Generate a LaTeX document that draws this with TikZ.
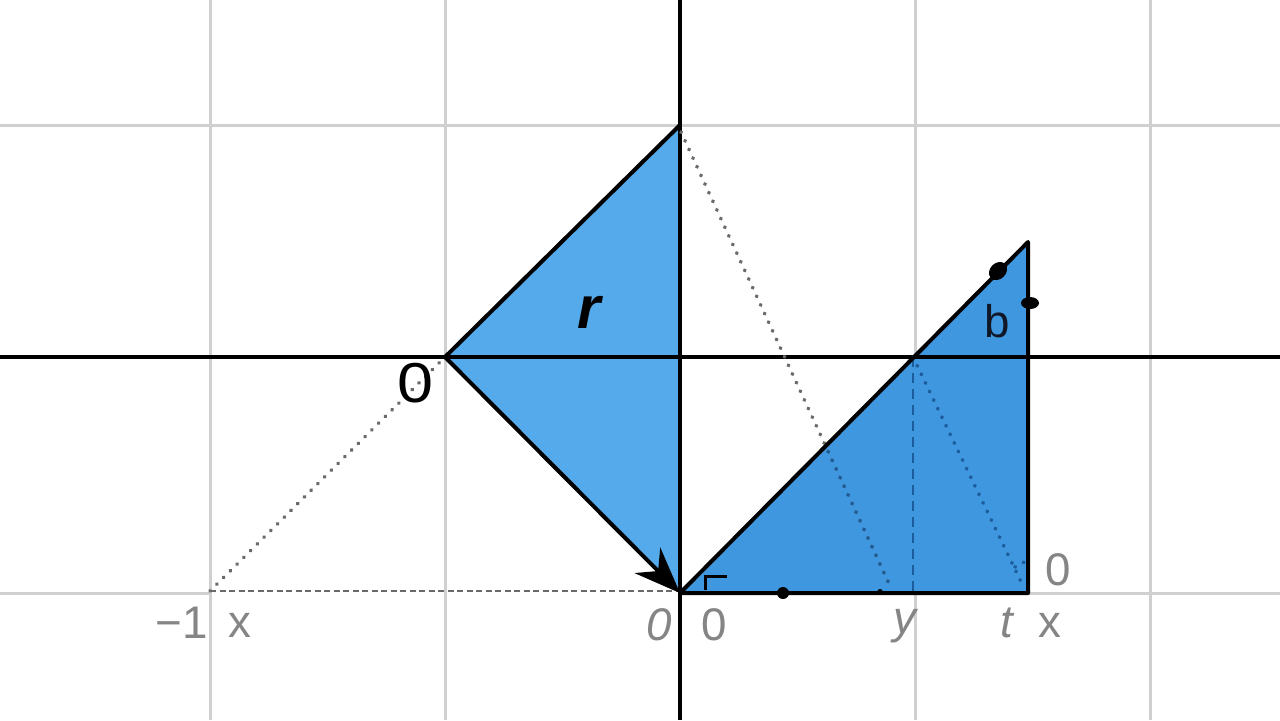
\documentclass[tikz,border=0pt]{standalone}
\usepackage{fontspec}
\setmainfont{Liberation Sans}
\usetikzlibrary{arrows.meta}
\definecolor{gridgray}{HTML}{D0D0D0}
\definecolor{lblue}{HTML}{55AAEC}
\definecolor{dblue}{HTML}{3E97DF}
\definecolor{dotblue}{HTML}{1C5C9A}
\definecolor{labgray}{HTML}{858585}
\definecolor{dotgray}{HTML}{6A6A6A}
\definecolor{navy}{HTML}{101828}
\begin{document}
\begin{tikzpicture}[x=0.01cm,y=-0.01cm,
 gridline/.style={gridgray,line width=0.3mm},
 axisline/.style={black,line width=0.4mm},
 edge/.style={black,line width=0.4mm,line join=round},
 dotline/.style={line width=0.38mm,dash pattern=on 0.05mm off 0.9mm,line cap=round},
 graylab/.style={labgray,font=\fontsize{13pt}{15pt}\selectfont,anchor=base,inner sep=0pt},
 blob/.style={fill=black,draw=none},
]
\useasboundingbox (0,0) rectangle (1280,720);
\fill[white] (0,0) rectangle (1280,720);

% grid
\foreach \x in {210,445,915,1150} \draw[gridline] (\x,0) -- (\x,720);
\draw[gridline] (0,125) -- (1280,125);
\draw[gridline] (0,593) -- (210,593);
\draw[gridline] (680,593) -- (1280,593);

% key points
\coordinate (L) at (445,357);
\coordinate (T) at (680,125);
\coordinate (O) at (680,593);
\coordinate (B) at (1028,242);
\coordinate (C) at (1028,593);
\coordinate (I) at (913,357);
\coordinate (M) at (210,591);
\coordinate (Mr) at (676,591);
\coordinate (Ls) at (440,362);
\coordinate (Ts) at (681,132);
\coordinate (S) at (891,588);
\coordinate (F) at (1024,588);
\coordinate (Iv) at (913,593);

% fills
\fill[lblue] (L) -- (T) -- (O) -- cycle;
\fill[dblue] (O) -- (B) -- (C) -- cycle;

% axes
\draw[axisline] (0,357) -- (1280,357);
\draw[axisline] (680,0) -- (680,720);

% dotted construction lines
\draw[dotline,dotgray] (Ts) -- (S);
\draw[dotline,dotgray] (M) -- (Ls);
\draw[dotgray,line width=0.28mm,dash pattern=on 0.6mm off 0.35mm] (M) -- (Mr);
\begin{scope}
  \clip (O) -- (B) -- (C) -- cycle;
  \draw[dotline,dotblue] (Ts) -- (S);
\end{scope}
\draw[dotline,dotblue] (I) -- (F);
\draw[dotline,dotblue] (1015,567) -- (1026,561);
\draw[dotblue,line width=0.28mm,dash pattern=on 1mm off 0.6mm] (I) -- (Iv);

% black edges
\draw[edge] (T) -- (L);
\draw[edge,-{Stealth[length=4.6mm,width=3.6mm]}] (L) -- (O);
\draw[edge] (O) -- (B) -- (C) -- cycle;

% right-angle mark at origin
\draw[black,line width=0.3mm] (705,590) -- (705,576) -- (727,576);

% tick blobs and dots
\fill[blob,rotate around={45:(998,271)}] (998,271) ellipse (10 and 8);
\fill[blob] (1030,303) ellipse (9 and 6);
\fill[blob] (783,593) circle (6);
\fill[blob] (880,592) circle (3);

% labels
\node[graylab] (m1) at (182,638) {−1};
\node[graylab] (xl) at (240,637) {x};
\node[graylab,font=\fontsize{13pt}{15pt}\selectfont\itshape] (z1) at (659,640) {0};
\node[graylab] (z2) at (714,640) {0};
\node[graylab,font=\fontsize{13pt}{15pt}\selectfont\itshape] (yl) at (905,633) {y};
\node[graylab,font=\fontsize{13pt}{15pt}\selectfont\itshape] (tl) at (1007,637) {t};
\node[graylab] (xr) at (1050,637) {x};
\node[graylab] (z3) at (1058,585) {0};
\node[black,inner sep=0pt,anchor=base,font=\fontsize{16pt}{18pt}\selectfont,xscale=1.15] (ol) at (415,402) {0};
\node[black,inner sep=0pt,anchor=base,font=\fontsize{17pt}{19pt}\selectfont\bfseries\itshape] (rl) at (589,328) {r};
\node[navy,inner sep=0pt,anchor=base,font=\fontsize{13pt}{15pt}\selectfont] (bl) at (997,337) {b};
\end{tikzpicture}
\end{document}
